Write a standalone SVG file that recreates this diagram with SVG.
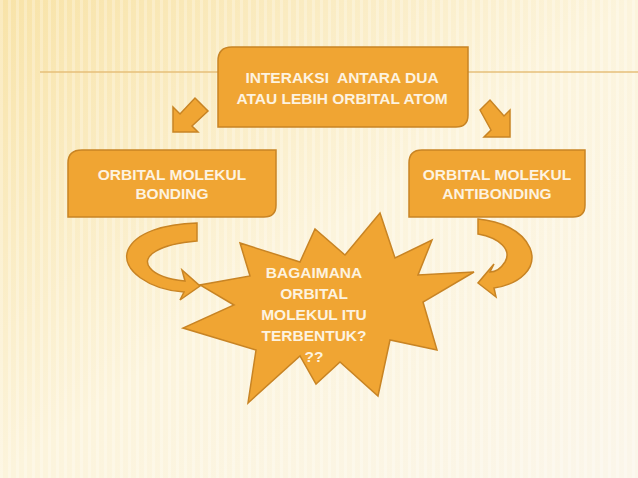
<svg xmlns="http://www.w3.org/2000/svg" width="638" height="478" viewBox="0 0 638 478">
<defs>
<linearGradient id="bg" x1="0" y1="0" x2="1" y2="1"><stop offset="0" stop-color="#f8e3a8"/><stop offset="0.5" stop-color="#fcf4dc"/><stop offset="1" stop-color="#fbf6ea"/></linearGradient>
<pattern id="str" width="8" height="8" patternUnits="userSpaceOnUse"><rect width="3" height="8" fill="#ffffff" opacity="0.25"/></pattern>
<style>.n{fill:#f0a533;stroke:#c88424;stroke-width:1.5}.t{font-family:"Liberation Sans",Arial,sans-serif;font-weight:bold;font-size:15.5px;fill:#fdf3e0;text-anchor:middle}</style>
</defs>
<rect width="638" height="478" fill="url(#bg)"/>
<rect width="638" height="478" fill="url(#str)"/>
<line x1="40" y1="72" x2="638" y2="72" stroke="#e6bf7a" stroke-width="1.5"/>
<g id="connectors">
<path class="n" d="M198 101 L208 111 L192 126 L198 132 L173 132 L173 107 L180 114 L195 98 Z"/>
<path class="n" d="M480 110 L490 100 L504 116 L510 110 L510 137 L484 137 L491 130 Z"/>
<path class="n" d="M197 223 L197 241 C160 244 140 256 150 268 C158 278 175 280 185 281 L182 270 L200 286 L180 300 L184 292 C150 290 120 270 128 250 C136 232 165 224 197 223 Z"/>
<path class="n" d="M478 219 L478 234 C500 238 512 250 505 262 C500 270 494 272 490 272 L494 264 L478 283 L496 297 L494 288 C520 284 538 268 530 248 C522 230 500 221 478 219 Z"/>
</g>
<g id="top"><path class="n" d="M232 47 L468 47 L468 115 Q468 127 456 127 L218 127 L218 61 Q218 47 232 47 Z"/>
<text class="t" x="342" y="83" xml:space="preserve">INTERAKSI  ANTARA DUA</text><text class="t" x="342" y="104">ATAU LEBIH ORBITAL ATOM</text></g>
<g id="bonding"><path class="n" d="M82 150 L276 150 L276 205 Q276 217 264 217 L68 217 L68 163 Q68 150 82 150 Z"/>
<text class="t" x="172" y="180">ORBITAL MOLEKUL</text><text class="t" x="172" y="199">BONDING</text></g>
<g id="antibonding"><path class="n" d="M422 150 L585 150 L585 205 Q585 217 573 217 L409 217 L409 163 Q409 150 422 150 Z"/>
<text class="t" x="497" y="180">ORBITAL MOLEKUL</text><text class="t" x="497" y="199">ANTIBONDING</text></g>
<g id="star"><path class="n" d="M380 213 L395 258 L432 240 L418 275 L474 272 L423 302 L437 350 L390 340 L378 396 L340 362 L316 384 L300 356 L248 403 L256 350 L183 328 L234 305 L200 285 L250 276 L240 243 L300 262 L315 229 L345 255 Z"/>
<text class="t" x="314" y="278">BAGAIMANA</text><text class="t" x="314" y="299">ORBITAL</text><text class="t" x="314" y="320">MOLEKUL ITU</text><text class="t" x="314" y="341">TERBENTUK?</text><text class="t" x="314" y="362">??</text></g>
</svg>
